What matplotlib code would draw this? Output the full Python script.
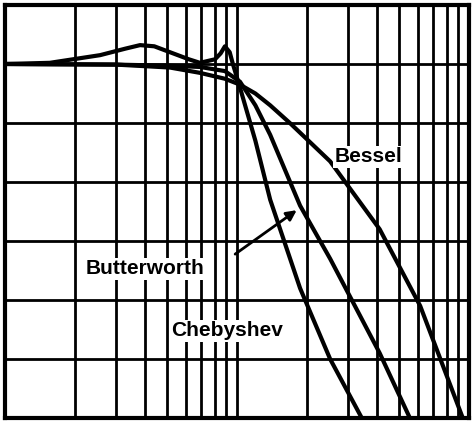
import matplotlib
matplotlib.use("Agg")
import matplotlib.pyplot as plt
import numpy as np

cheb_f = [1, 1.56, 2.57, 3.3, 3.82, 4.4, 5.14, 6.2, 6.92, 8.04, 8.5, 8.87, 9.3, 9.6, 10.3, 12, 13.9, 18.7, 25.2, 34.5]
cheb_db = [0, 0.2, 1.5, 2.6, 3.2, 3.0, 2.0, 0.8, 0.2, 0.8, 1.8, 3.0, 2.0, 0.0, -4, -13, -23, -38, -50, -60]
butt_f = [1, 3, 5.14, 6.92, 8.87, 10.3, 12, 13.9, 18.7, 25.2, 41.2, 55.6]
butt_db = [0, -0.1, -0.3, -0.5, -1.2, -3, -7, -12, -24, -33, -49, -60]
bess_f = [1, 3, 5.14, 6.92, 8.87, 10.3, 12, 13.9, 16.9, 25.2, 41.2, 61.6, 94]
bess_db = [0, -0.1, -0.6, -1.5, -2.5, -3.5, -5, -7, -10, -16.5, -28, -41, -60]

fig = plt.figure(figsize=(4.74, 4.25), dpi=100)
ax = fig.add_axes([5/474, 7/425, 464/474, 413/425])
ax.set_xscale("log")
ax.set_xlim(1, 100)
ax.set_ylim(-60, 10)
ticks = [m * d for d in (1, 10) for m in range(1, 10)] + [100]
ax.set_xticks(ticks)
ax.set_xticks([], minor=True)
ax.set_yticks(np.arange(-60, 11, 10))
ax.grid(True, color="black", lw=2)
ax.tick_params(left=False, bottom=False, labelleft=False, labelbottom=False)
for s in ax.spines.values():
    s.set_linewidth(3)
for f, d in ((cheb_f, cheb_db), (butt_f, butt_db), (bess_f, bess_db)):
    ax.plot(f, d, color="black", lw=3, clip_on=True, solid_joinstyle="round")
bb = dict(facecolor="white", edgecolor="none", pad=1)
fs = 15
fam = "Liberation Sans"
ax.text(36.7, -15.7, "Bessel", fontsize=fs, fontweight="bold", family=fam, ha="center", va="center", bbox=bb)
ax.text(4.0, -34.7, "Butterworth", fontsize=fs, fontweight="bold", family=fam, ha="center", va="center", bbox=bb)
ax.text(9.06, -45.2, "Chebyshev", fontsize=fs, fontweight="bold", family=fam, ha="center", va="center", bbox=bb)
ax.annotate("", xy=(18.5, -24.5), xytext=(9.6, -32.5),
            arrowprops=dict(arrowstyle="-|>", color="black", lw=2, mutation_scale=15))
fig.savefig("out.png", dpi=100, facecolor="white")
